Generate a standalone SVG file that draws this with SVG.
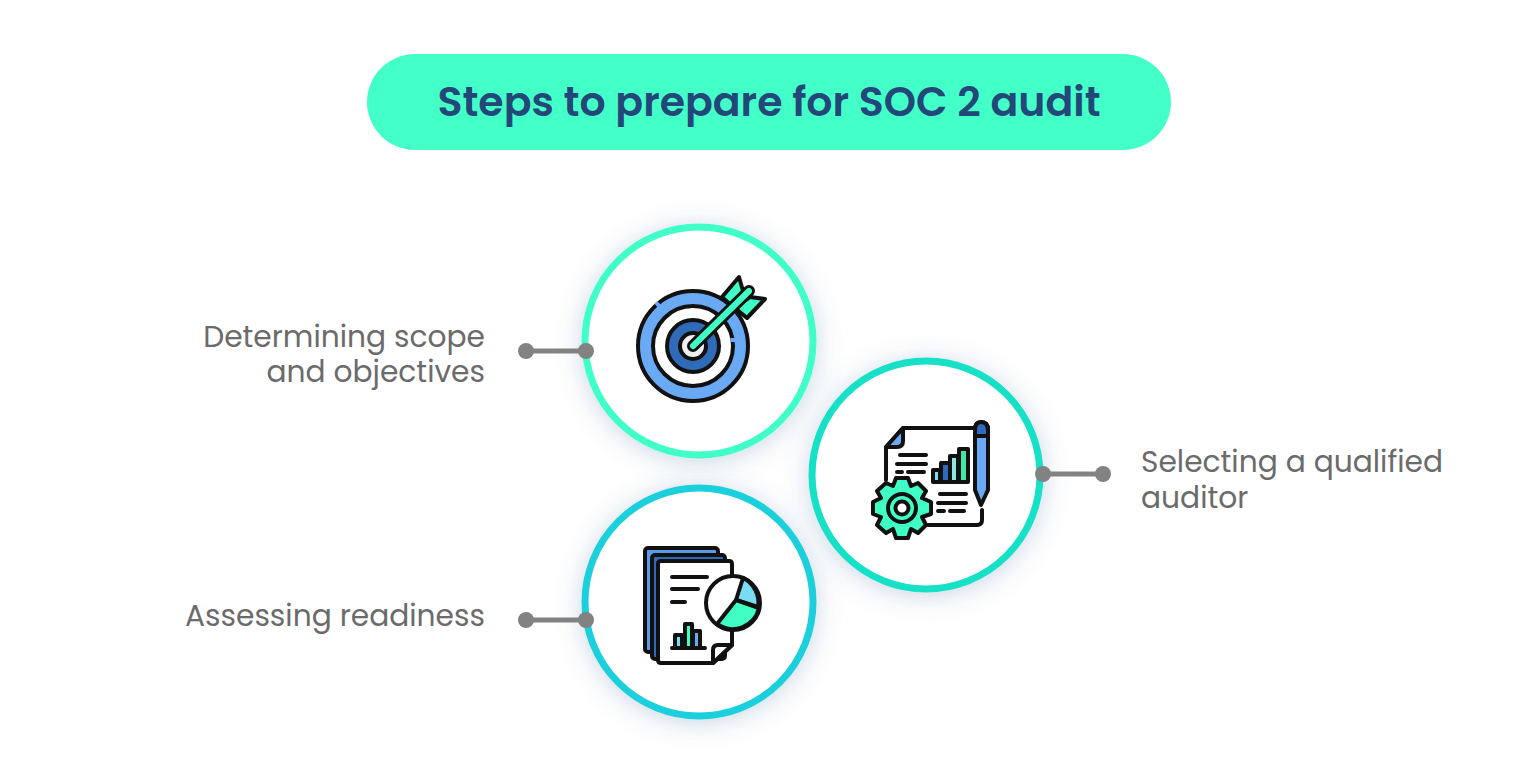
<svg xmlns="http://www.w3.org/2000/svg" width="1536" height="778" viewBox="0 0 1536 778">
<defs>
<filter id="sh" x="-30%" y="-30%" width="160%" height="160%"><feDropShadow dx="0" dy="3" stdDeviation="13" flood-color="#4f74a8" flood-opacity="0.3"/></filter>
</defs>
<style>
.t{font-family:Poppins,"Open Sans","Noto Sans",sans-serif;font-size:29.7px;fill:#6b6b6b}
.title{font-family:Poppins,Inter,"Open Sans",sans-serif;font-size:41px;font-weight:600;fill:#24477a}
.ring{fill:#fff;stroke-width:7;filter:url(#sh)}
.l{stroke:#828282;stroke-width:5;fill:none}
.d{fill:#828282}
.k{stroke:#111;stroke-width:4;stroke-linecap:round;stroke-linejoin:round}
.n{fill:none}
</style>
<rect width="1536" height="778" fill="#fff"/>
<g id="title"><rect x="367" y="54" width="804" height="96" rx="48" fill="#43ffc8"/><text class="title" x="769" y="116" text-anchor="middle">Steps to prepare for SOC 2 audit</text></g>
<g id="node-scope">
<circle class="ring" cx="699" cy="341" r="114" stroke="#40ffc9"/>
<circle class="k" cx="693" cy="346" r="55" fill="#6aa9f4"/>
<circle class="k" cx="693" cy="346" r="40" fill="#fff"/>
<circle class="k" cx="693" cy="346" r="26" fill="#2f6bb8"/>
<circle class="k" cx="693" cy="346" r="13" fill="#efefef"/>
<path d="M656 305.3l3 -2.5M733 338v4" stroke="#6aa9f4" stroke-width="5"/>
<path class="k" d="M722 297L739 277L743 291L732 306Z" fill="#40ffc4"/>
<path class="k" d="M735 308L750 297L765 299L747 318Z" fill="#40ffc4"/>
<path d="M693 346L749 291" stroke="#111" stroke-width="12" stroke-linecap="round"/>
<path d="M693 346L749 291" stroke="#40ffc4" stroke-width="6" stroke-linecap="round"/>
<text class="t" text-anchor="end" x="485" y="347">Determining scope</text>
<text class="t" text-anchor="end" x="485" y="382">and objectives</text>
</g>
<g id="node-auditor">
<circle class="ring" cx="926" cy="475" r="114" stroke="#12e0c6"/>
<path class="k" d="M886 480V447L903 428H974M982 510V520Q982 525 977 525H928" fill="none"/>
<path class="k" d="M886 447H897Q903 447 903 441V428Z" fill="#6aa9f4"/>
<path class="k n" d="M900 455H926M897 464H926M897 472H902M908 472H924M940 494H966M938 503H966M938 511H944M950 511H964"/>
<path class="k" d="M933 470h7v12h-7z" fill="#7adcf2"/><path class="k" d="M941 463h9v19h-9z" fill="#2f6bb8"/><path class="k" d="M950 456h8v26h-8z" fill="#8fe6e0"/><path class="k" d="M959 449h9v33h-9z" fill="#40e8a8"/>
<path class="k" d="M975 430Q975 422 981 422Q988 422 988 430V490L981 505L975 490Z" fill="#6aa9f4"/>
<path class="k" d="M975 430Q975 422 981 422Q988 422 988 430V436H975Z" fill="#2f6bb8"/>
<path class="k" d="M896 478L908 478L911 486L918 483L926 491L922 498L931 502V514L922 517L926 525L918 533L911 529L908 538H896L893 529L886 533L877 525L881 517L873 514V502L881 498L877 491L886 483L893 486Z" fill="#40ffc4"/>
<circle class="k" cx="902" cy="508" r="14" fill="none"/><circle class="k" cx="902" cy="508" r="6.5" fill="#fff"/>
<text class="t" x="1141" y="472">Selecting a qualified</text>
<text class="t" x="1141" y="508">auditor</text>
</g>
<g id="node-readiness">
<circle class="ring" cx="699" cy="602" r="114" stroke="#1ccfdc"/>
<rect class="k" x="645" y="548" width="73" height="104" rx="3" fill="#5a9be8"/>
<rect class="k" x="652" y="555" width="73" height="104" rx="3" fill="#2f6bb8"/>
<path class="k" d="M661 561H729Q732 561 732 564V645L713 663H661Q658 663 658 660V564Q658 561 661 561Z" fill="#fff"/>
<path class="k" d="M713 663V650Q713 645 718 645H732Z" fill="#fff"/>
<path class="k n" d="M672 577H707M672 589H698M672 602H685M672 648H705"/>
<path class="k" d="M675 635h7v13h-7z" fill="#7adcf2"/><path class="k" d="M685 624h7v24h-7z" fill="#40ffc4"/><path class="k" d="M693 631h7v17h-7z" fill="#6aa9f4"/>
<circle class="k" cx="733" cy="603" r="27" fill="#fff"/>
<path class="k" d="M736 600L758 607A27 27 0 0 0 743 578Z" fill="#7adcf2"/>
<path class="k" d="M736 600L759 608A27 27 0 0 1 717 624Z" fill="#40ffc4"/>
<text class="t" text-anchor="end" x="485" y="626">Assessing readiness</text>
</g>
<g id="connectors">
<path class="l" d="M526 351H586M1043 474H1103M526 620H586"/>
<circle class="d" cx="526" cy="351" r="8"/><circle class="d" cx="586" cy="351" r="8"/>
<circle class="d" cx="1043" cy="474" r="8"/><circle class="d" cx="1103" cy="474" r="8"/>
<circle class="d" cx="526" cy="620" r="8"/><circle class="d" cx="586" cy="620" r="8"/>
</g>
</svg>
